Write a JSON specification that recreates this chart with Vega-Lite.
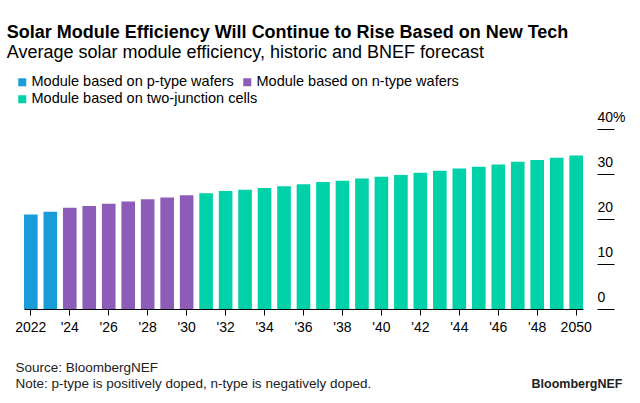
{
  "$schema": "https://vega.github.io/schema/vega-lite/v6.json",
  "autosize": "none",
  "width": 591,
  "height": 180,
  "padding": {"left": 23, "top": 129, "right": 26, "bottom": 94},
  "background": "white",
  "config": {
    "font": "Liberation Sans",
    "view": {"stroke": null}
  },
  "title": {
    "text": "Solar Module Efficiency Will Continue to Rise Based on New Tech",
    "subtitle": "Average solar module efficiency, historic and BNEF forecast",
    "anchor": "start",
    "dx": -8,
    "fontSize": 18,
    "fontWeight": "bold",
    "color": "#000000",
    "subtitleFontSize": 18,
    "subtitleColor": "#000000",
    "subtitlePadding": 2,
    "offset": 13
  },
  "data": {
    "values": [
      {"year": 2022, "value": 21.0, "type": "Module based on p-type wafers"},
      {"year": 2023, "value": 21.6, "type": "Module based on p-type wafers"},
      {"year": 2024, "value": 22.5, "type": "Module based on n-type wafers"},
      {"year": 2025, "value": 22.9, "type": "Module based on n-type wafers"},
      {"year": 2026, "value": 23.4, "type": "Module based on n-type wafers"},
      {"year": 2027, "value": 23.9, "type": "Module based on n-type wafers"},
      {"year": 2028, "value": 24.4, "type": "Module based on n-type wafers"},
      {"year": 2029, "value": 24.8, "type": "Module based on n-type wafers"},
      {"year": 2030, "value": 25.3, "type": "Module based on n-type wafers"},
      {"year": 2031, "value": 25.7, "type": "Module based on two-junction cells"},
      {"year": 2032, "value": 26.2, "type": "Module based on two-junction cells"},
      {"year": 2033, "value": 26.5, "type": "Module based on two-junction cells"},
      {"year": 2034, "value": 26.9, "type": "Module based on two-junction cells"},
      {"year": 2035, "value": 27.3, "type": "Module based on two-junction cells"},
      {"year": 2036, "value": 27.7, "type": "Module based on two-junction cells"},
      {"year": 2037, "value": 28.2, "type": "Module based on two-junction cells"},
      {"year": 2038, "value": 28.5, "type": "Module based on two-junction cells"},
      {"year": 2039, "value": 29.0, "type": "Module based on two-junction cells"},
      {"year": 2040, "value": 29.4, "type": "Module based on two-junction cells"},
      {"year": 2041, "value": 29.8, "type": "Module based on two-junction cells"},
      {"year": 2042, "value": 30.3, "type": "Module based on two-junction cells"},
      {"year": 2043, "value": 30.7, "type": "Module based on two-junction cells"},
      {"year": 2044, "value": 31.2, "type": "Module based on two-junction cells"},
      {"year": 2045, "value": 31.6, "type": "Module based on two-junction cells"},
      {"year": 2046, "value": 32.1, "type": "Module based on two-junction cells"},
      {"year": 2047, "value": 32.7, "type": "Module based on two-junction cells"},
      {"year": 2048, "value": 33.1, "type": "Module based on two-junction cells"},
      {"year": 2049, "value": 33.6, "type": "Module based on two-junction cells"},
      {"year": 2050, "value": 34.1, "type": "Module based on two-junction cells"}
    ]
  },
  "mark": {"type": "bar"},
  "encoding": {
    "x": {
      "field": "year",
      "type": "ordinal",
      "scale": {"range": [1, 560], "paddingInner": 0.3, "paddingOuter": 0},
      "axis": {
        "values": [2022, 2024, 2026, 2028, 2030, 2032, 2034, 2036, 2038, 2040, 2042, 2044, 2046, 2048, 2050],
        "labelExpr": "(datum.value == 2022 || datum.value == 2050) ? '' + datum.value : \"'\" + slice('' + datum.value, 2)",
        "labelAngle": 0,
        "labelFontSize": 14,
        "labelColor": "#000000",
        "labelPadding": 5,
        "tickSize": 6,
        "tickColor": "#000000",
        "domainColor": "#000000",
        "domainWidth": 1,
        "title": ["Source: BloombergNEF", "Note: p-type is positively doped, n-type is negatively doped."],
        "titleAnchor": "start",
        "titleAlign": "left",
        "titleBaseline": "alphabetic",
        "titleX": -8,
        "titleY": 62,
        "titleFontSize": 13.5,
        "titleFontWeight": "normal",
        "titleColor": "#222222",
        "titleLineHeight": 16
      }
    },
    "y": {
      "field": "value",
      "type": "quantitative",
      "scale": {"domain": [0, 40]},
      "axis": {
        "orient": "right",
        "offset": -17,
        "values": [0, 10, 20, 30, 40],
        "labelExpr": "datum.value == 40 ? '40%' : '' + datum.value",
        "grid": false,
        "domain": false,
        "tickSize": 17,
        "tickColor": "#000000",
        "labelAlign": "left",
        "labelBaseline": "alphabetic",
        "labelPadding": -17,
        "labelOffset": -8,
        "labelFontSize": 14,
        "labelColor": "#000000",
        "title": "BloombergNEF",
        "titleAngle": 0,
        "titleAlign": "right",
        "titleBaseline": "alphabetic",
        "titleX": 25,
        "titleY": 258,
        "titleFontSize": 12.5,
        "titleFontWeight": "bold",
        "titleColor": "#222222"
      }
    },
    "color": {
      "field": "type",
      "type": "nominal",
      "scale": {
        "domain": ["Module based on p-type wafers", "Module based on n-type wafers", "Module based on two-junction cells"],
        "range": ["#1a9cd9", "#8d5cb8", "#00d1a9"]
      },
      "legend": {
        "title": null,
        "orient": "none",
        "legendX": -8,
        "legendY": -54,
        "direction": "horizontal",
        "columns": 2,
        "gridAlign": "none",
        "symbolType": "square",
        "symbolSize": 64,
        "symbolStrokeWidth": 0,
        "labelFontSize": 14.5,
        "labelColor": "#000000",
        "labelOffset": 2,
        "columnPadding": -18,
        "rowPadding": 2,
        "padding": 0,
        "labelLimit": 400
      }
    }
  }
}
